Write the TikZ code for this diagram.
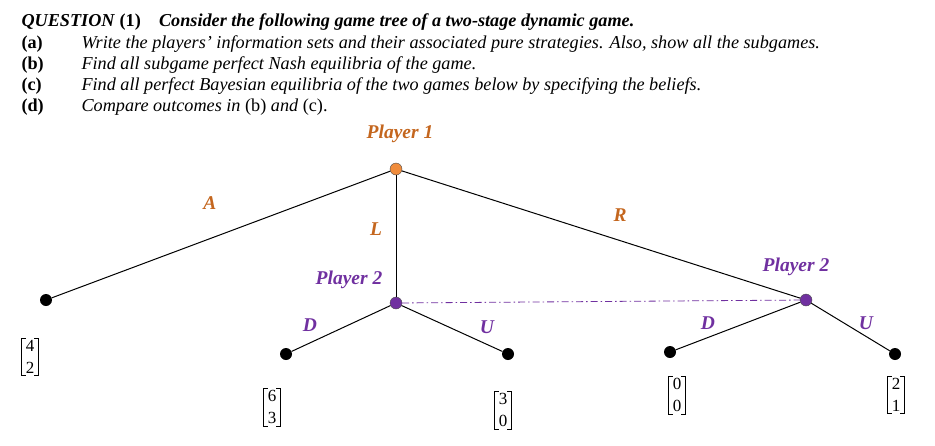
\documentclass[tikz,border=0pt]{standalone}
\usepackage{fontspec}
\setmainfont{Liberation Serif}
\definecolor{orng}{RGB}{196,102,30}
\definecolor{orfill}{RGB}{240,140,60}
\definecolor{purp}{RGB}{112,48,160}
\begin{document}
\begin{tikzpicture}[x=1pt,y=-1pt,
  lab/.style={font=\fontsize{19.5}{22}\selectfont\bfseries\itshape},
  p1/.style={lab,text=orng},
  p2/.style={lab,text=purp},
  leaf/.style={circle,fill=black,inner sep=0pt,minimum size=12pt},
  dec/.style={circle,draw=black!70,inner sep=0pt,minimum size=12pt},
  edge/.style={line width=1pt},
  pay/.style={font=\fontsize{17}{22}\selectfont,align=center,inner xsep=4pt,inner ysep=2pt},
  brk/.style={line width=0.7pt},
  hd/.style={anchor=base west,font=\fontsize{18.2}{21}\selectfont}]
\useasboundingbox (0,0) rectangle (935,445);
% header
\node[hd] (q) at (18,26) {\textbf{\textit{QUESTION} (1)\quad \textit{Consider the following game tree of a two-stage dynamic game.}}};
\node[hd] (la) at (18,48) {\textbf{(a)}};
\node[hd] (ta) at (78,48) {\textit{Write the players' information sets and their associated pure strategies. Also, show all the subgames.}};
\node[hd] (lb) at (18,69) {\textbf{(b)}};
\node[hd] (tb) at (78,69) {\textit{Find all subgame perfect Nash equilibria of the game.}};
\node[hd] (lc) at (18,90) {\textbf{(c)}};
\node[hd] (tc) at (78,90) {\textit{Find all perfect Bayesian equilibria of the two games below by specifying the beliefs.}};
\node[hd] (ld) at (18,111) {\textbf{(d)}};
\node[hd] (td) at (78,111) {\textit{Compare outcomes in} (b) \textit{and} (c).};
% tree
\node[dec,fill=orfill] (r) at (396,169) {};
\node[dec,fill=purp] (m1) at (396,303) {};
\node[dec,fill=purp] (m2) at (806,300) {};
\node[leaf] (a) at (46,300) {};
\node[leaf] (l1) at (286,354) {};
\node[leaf] (l2) at (508,354) {};
\node[leaf] (l3) at (670,352) {};
\node[leaf] (l4) at (895,354) {};
\draw[edge] (r) -- (a);
\draw[edge] (r) -- (m1);
\draw[edge] (r) -- (m2);
\draw[edge] (m1) -- (l1);
\draw[edge] (m1) -- (l2);
\draw[edge] (m2) -- (l3);
\draw[edge] (m2) -- (l4);
\draw[purp,line width=0.8pt,dash pattern=on 7pt off 3pt on 1.5pt off 3pt] (m1) -- (m2);
\node[p1] (pl1) at (400,134) {Player 1};
\node[p1] (tA) at (210,203) {A};
\node[p1] (tL) at (376,229) {L};
\node[p1] (tR) at (620,215) {R};
\node[p2] (pl2a) at (349,280) {Player 2};
\node[p2] (pl2b) at (796,267) {Player 2};
\node[p2] (tD1) at (310,325) {D};
\node[p2] (tU1) at (487,327) {U};
\node[p2] (tD2) at (708,323) {D};
\node[p2] (tU2) at (866,323) {U};
\foreach \n/\x/\y/\a/\b in {v0/30/357/4/2, v1/272/407/6/3, v2/503/410/3/0, v3/677/395/0/0, v4/896/395/2/1}{
  \node[pay] (\n) at (\x,\y) {\a\\\b};
  \draw[brk] ([xshift=4pt]\n.north west) -- (\n.north west) -- (\n.south west) -- ++(4pt,0);
  \draw[brk] ([xshift=-4pt]\n.north east) -- (\n.north east) -- (\n.south east) -- ++(-4pt,0);
}
\end{tikzpicture}
\end{document}
